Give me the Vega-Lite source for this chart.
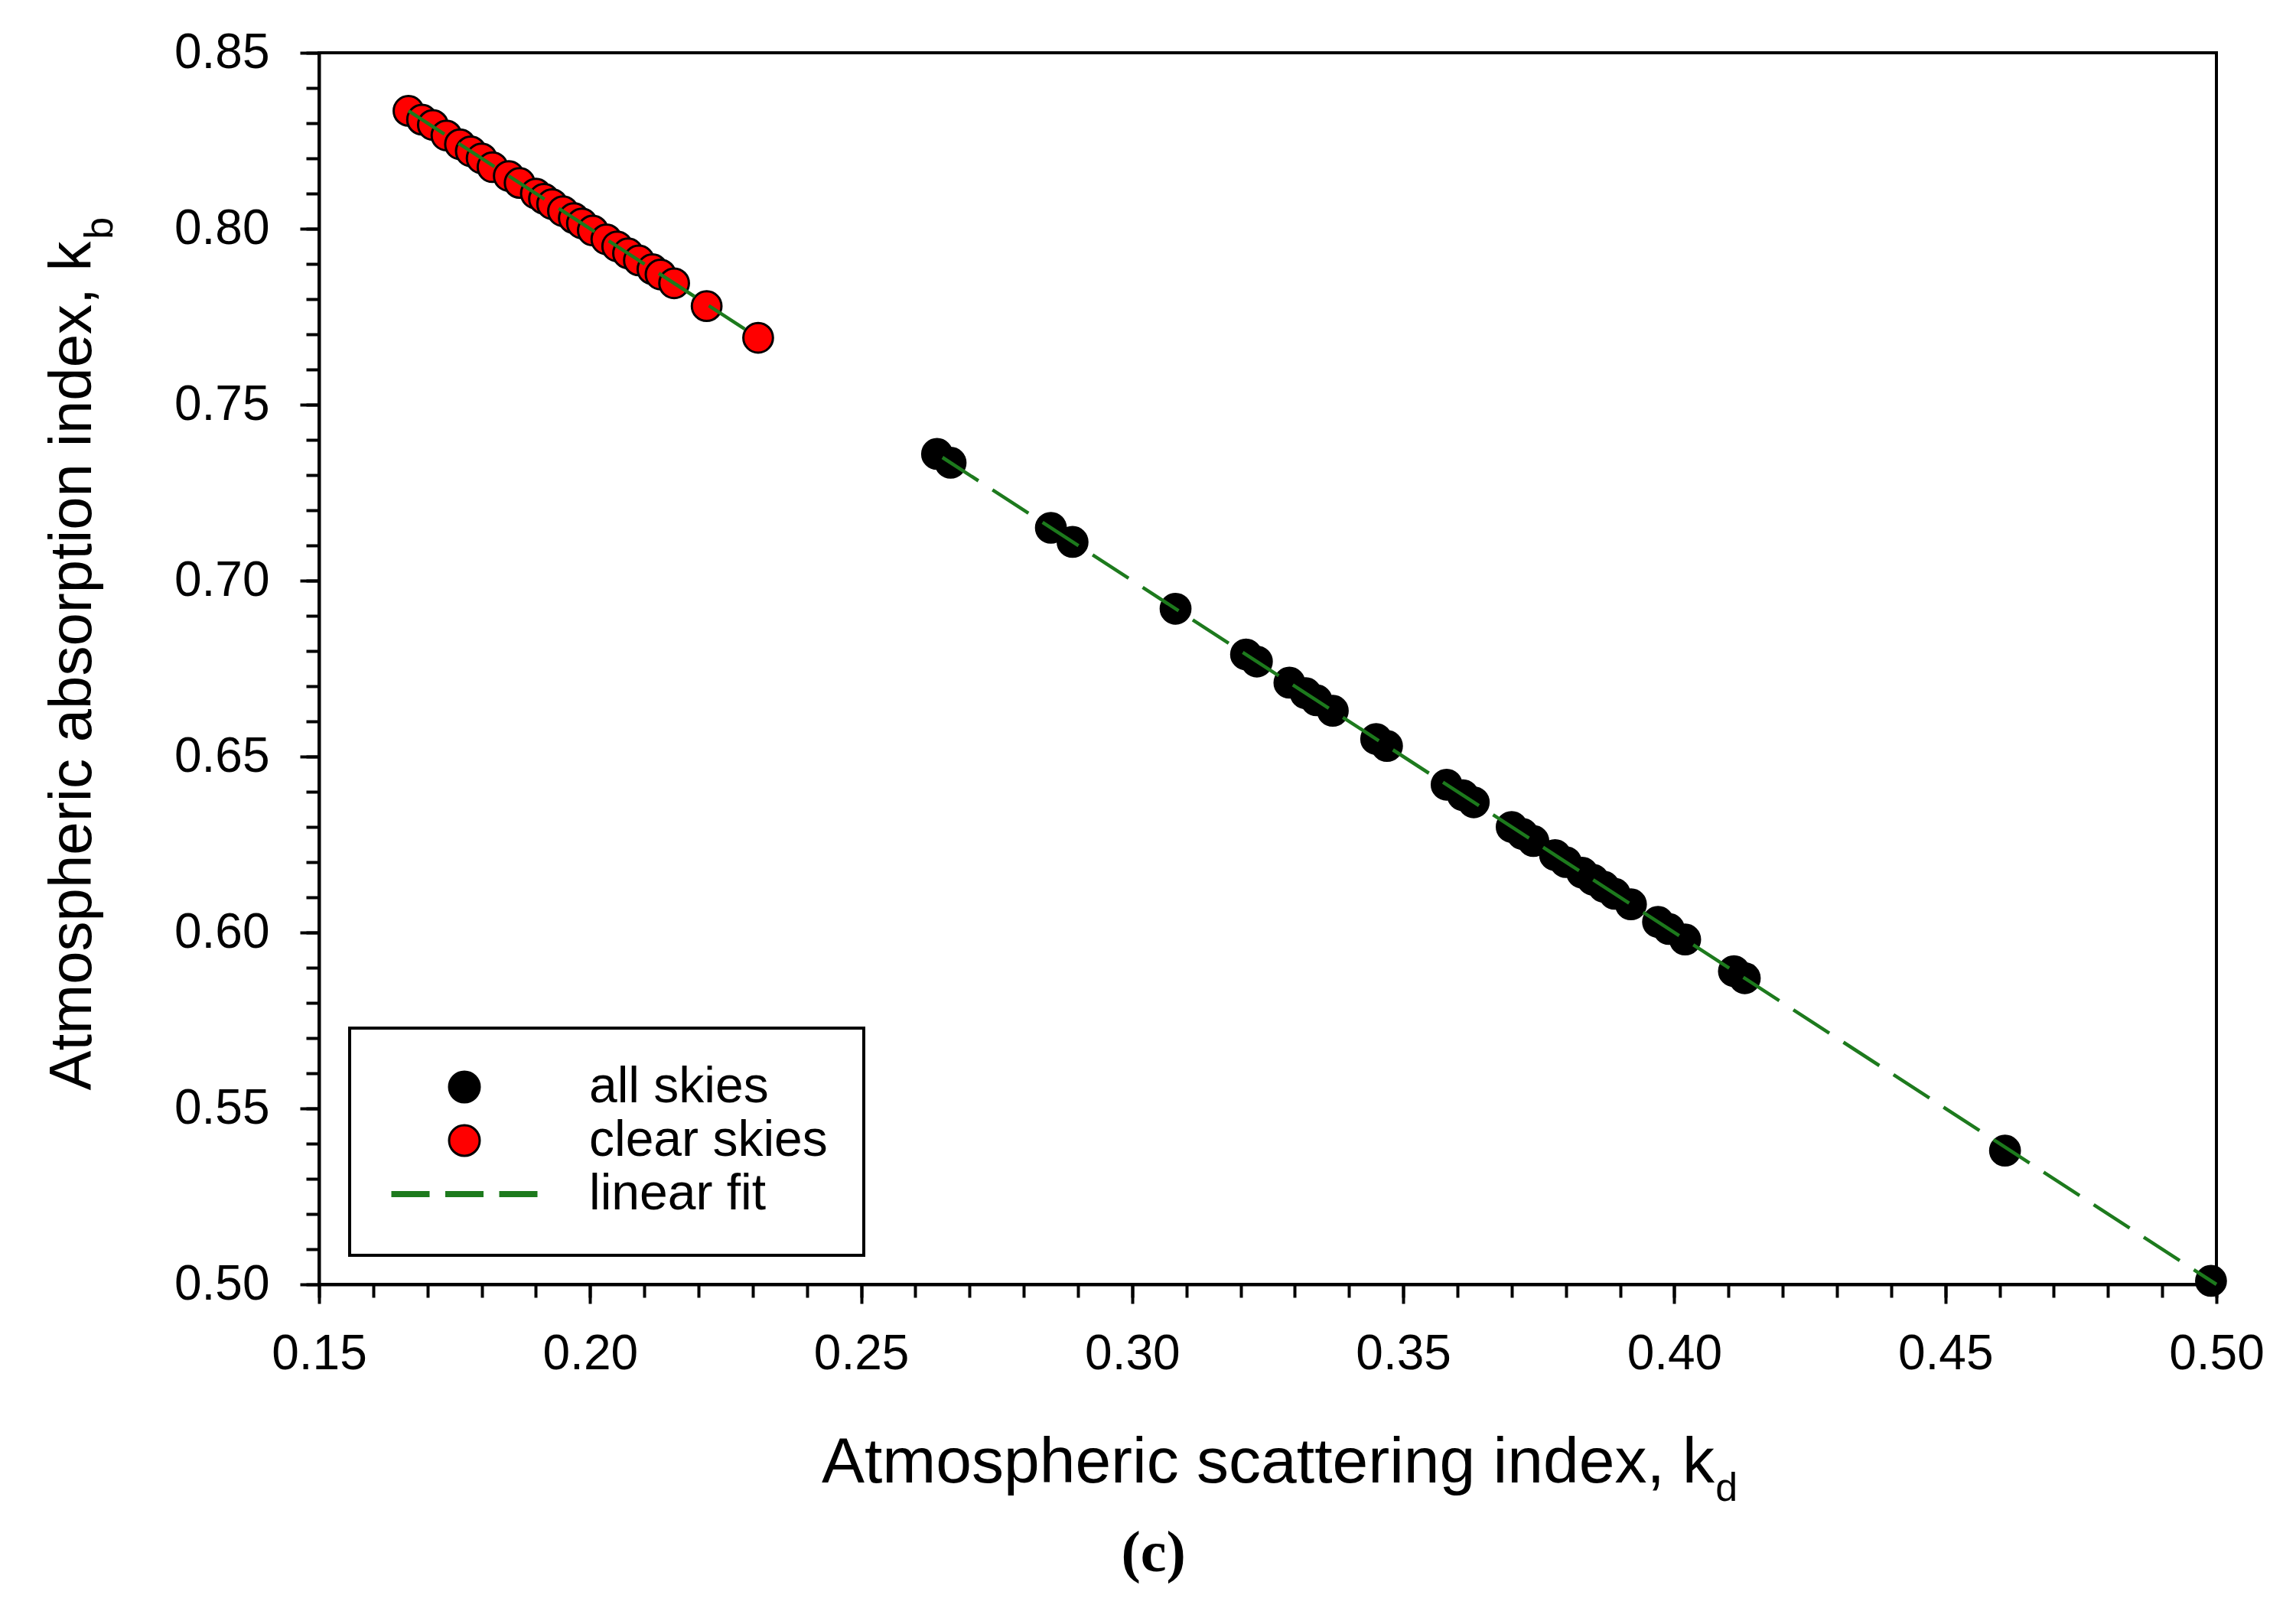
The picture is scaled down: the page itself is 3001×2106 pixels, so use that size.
{
  "$schema": "https://vega.github.io/schema/vega-lite/v6.json",
  "width": 2480,
  "height": 1610,
  "autosize": {"type": "none"},
  "padding": {"left": 417, "top": 69, "right": 104, "bottom": 427},
  "background": "white",
  "title": {
    "text": "(c)",
    "orient": "bottom",
    "anchor": "middle",
    "frame": "bounds",
    "font": "Liberation Serif",
    "fontWeight": "bold",
    "fontSize": 76,
    "color": "black",
    "offset": 22
  },
  "config": {
    "view": {"stroke": "black", "strokeWidth": 4},
    "font": "Liberation Sans",
    "legend": {"strokeWidth": 4},
    "axis": {
      "grid": false,
      "domainColor": "black",
      "domainWidth": 4,
      "tickColor": "black",
      "tickWidth": 4,
      "labelColor": "black",
      "titleColor": "black",
      "labelFont": "Liberation Sans",
      "titleFont": "Liberation Sans",
      "titleFontWeight": "normal",
      "labelFlush": false,
      "labelOverlap": false
    }
  },
  "datasets": {
    "skies": [
      {"sky": "all skies", "kd": 0.264, "kb": 0.736},
      {"sky": "all skies", "kd": 0.2665, "kb": 0.7335},
      {"sky": "all skies", "kd": 0.285, "kb": 0.715},
      {"sky": "all skies", "kd": 0.289, "kb": 0.711},
      {"sky": "all skies", "kd": 0.308, "kb": 0.692},
      {"sky": "all skies", "kd": 0.321, "kb": 0.679},
      {"sky": "all skies", "kd": 0.323, "kb": 0.677},
      {"sky": "all skies", "kd": 0.329, "kb": 0.671},
      {"sky": "all skies", "kd": 0.332, "kb": 0.668},
      {"sky": "all skies", "kd": 0.334, "kb": 0.666},
      {"sky": "all skies", "kd": 0.337, "kb": 0.663},
      {"sky": "all skies", "kd": 0.345, "kb": 0.655},
      {"sky": "all skies", "kd": 0.347, "kb": 0.653},
      {"sky": "all skies", "kd": 0.358, "kb": 0.642},
      {"sky": "all skies", "kd": 0.361, "kb": 0.639},
      {"sky": "all skies", "kd": 0.363, "kb": 0.637},
      {"sky": "all skies", "kd": 0.37, "kb": 0.63},
      {"sky": "all skies", "kd": 0.372, "kb": 0.628},
      {"sky": "all skies", "kd": 0.374, "kb": 0.626},
      {"sky": "all skies", "kd": 0.378, "kb": 0.622},
      {"sky": "all skies", "kd": 0.38, "kb": 0.62},
      {"sky": "all skies", "kd": 0.383, "kb": 0.617},
      {"sky": "all skies", "kd": 0.385, "kb": 0.615},
      {"sky": "all skies", "kd": 0.387, "kb": 0.613},
      {"sky": "all skies", "kd": 0.389, "kb": 0.611},
      {"sky": "all skies", "kd": 0.392, "kb": 0.608},
      {"sky": "all skies", "kd": 0.397, "kb": 0.603},
      {"sky": "all skies", "kd": 0.399, "kb": 0.601},
      {"sky": "all skies", "kd": 0.402, "kb": 0.598},
      {"sky": "all skies", "kd": 0.411, "kb": 0.589},
      {"sky": "all skies", "kd": 0.413, "kb": 0.587},
      {"sky": "all skies", "kd": 0.461, "kb": 0.538},
      {"sky": "all skies", "kd": 0.499, "kb": 0.501},
      {"sky": "clear skies", "kd": 0.1665, "kb": 0.8335},
      {"sky": "clear skies", "kd": 0.169, "kb": 0.831},
      {"sky": "clear skies", "kd": 0.171, "kb": 0.8295},
      {"sky": "clear skies", "kd": 0.1735, "kb": 0.8265},
      {"sky": "clear skies", "kd": 0.176, "kb": 0.824},
      {"sky": "clear skies", "kd": 0.178, "kb": 0.822},
      {"sky": "clear skies", "kd": 0.18, "kb": 0.82},
      {"sky": "clear skies", "kd": 0.182, "kb": 0.8175},
      {"sky": "clear skies", "kd": 0.185, "kb": 0.815},
      {"sky": "clear skies", "kd": 0.187, "kb": 0.813},
      {"sky": "clear skies", "kd": 0.19, "kb": 0.81},
      {"sky": "clear skies", "kd": 0.1915, "kb": 0.8085},
      {"sky": "clear skies", "kd": 0.193, "kb": 0.807},
      {"sky": "clear skies", "kd": 0.195, "kb": 0.805},
      {"sky": "clear skies", "kd": 0.197, "kb": 0.803},
      {"sky": "clear skies", "kd": 0.1985, "kb": 0.8015},
      {"sky": "clear skies", "kd": 0.2005, "kb": 0.7995},
      {"sky": "clear skies", "kd": 0.203, "kb": 0.797},
      {"sky": "clear skies", "kd": 0.205, "kb": 0.795},
      {"sky": "clear skies", "kd": 0.207, "kb": 0.793},
      {"sky": "clear skies", "kd": 0.209, "kb": 0.791},
      {"sky": "clear skies", "kd": 0.2115, "kb": 0.7885},
      {"sky": "clear skies", "kd": 0.213, "kb": 0.787},
      {"sky": "clear skies", "kd": 0.2155, "kb": 0.7845},
      {"sky": "clear skies", "kd": 0.2215, "kb": 0.778},
      {"sky": "clear skies", "kd": 0.231, "kb": 0.769}
    ],
    "fits": [
      {"fit": "all skies", "kd": 0.265, "kb": 0.735},
      {"fit": "all skies", "kd": 0.5, "kb": 0.5},
      {"fit": "clear skies", "kd": 0.1665, "kb": 0.8335},
      {"fit": "clear skies", "kd": 0.231, "kb": 0.769}
    ]
  },
  "layer": [
    {
      "data": {"name": "skies"},
      "mark": {"type": "point", "shape": "circle", "filled": true, "size": 1500, "opacity": 1},
      "encoding": {
        "x": {
          "field": "kd", "type": "quantitative",
          "scale": {"domain": [0.15, 0.5], "nice": false, "zero": false},
          "axis": {
            "orient": "bottom",
            "values": [0.15, 0.2, 0.25, 0.3, 0.35, 0.4, 0.45, 0.5],
            "format": ".2f",
            "tickSize": 25,
            "labelFontSize": 64,
            "labelPadding": 34,
            "title": "Atmospheric scattering index, k",
            "titleFontSize": 84,
            "titleBaseline": "alphabetic",
            "titleY": 258
          }
        },
        "y": {
          "field": "kb", "type": "quantitative",
          "scale": {"domain": [0.5, 0.85], "nice": false, "zero": false},
          "axis": {
            "orient": "left",
            "values": [0.5, 0.55, 0.6, 0.65, 0.7, 0.75, 0.8, 0.85],
            "format": ".2f",
            "tickSize": 25,
            "labelFontSize": 64,
            "labelPadding": 40,
            "title": "Atmospheric absorption index, k",
            "titleFontSize": 78,
            "titleAngle": -90,
            "titleAlign": "center",
            "titleBaseline": "alphabetic",
            "titleX": -299,
            "titleY": 801
          }
        },
        "color": {
          "field": "sky", "type": "nominal",
          "scale": {"domain": ["all skies", "clear skies", "linear fit"], "range": ["black", "#ff0000", "#1d7a1d"]},
          "legend": {
            "orient": "none",
            "legendX": 40,
            "legendY": 1275,
            "title": null,
            "padding": 47,
            "strokeColor": "black",
            "labelFont": "Liberation Sans",
            "labelFontSize": 66,
            "labelColor": "black",
            "labelLimit": 800,
            "symbolType": {"expr": "datum.value === 'linear fit' ? 'M-4.775,-0.2H-2.275V0.2H-4.775Z M-1.25,-0.2H1.25V0.2H-1.25Z M2.275,-0.2H4.775V0.2H2.275Z' : 'circle'"},
            "symbolStrokeColor": {"expr": "datum.value === 'linear fit' ? 'transparent' : 'black'"},
            "symbolSize": 1600,
            "symbolStrokeWidth": 3,
            "symbolOffset": 70,
            "labelOffset": 130,
            "rowPadding": 4,
            "clipHeight": 60
          }
        }
      }
    },
    {
      "data": {"name": "skies"},
      "mark": {"type": "point", "shape": "circle", "filled": true, "size": 1500, "stroke": "black", "strokeWidth": 3, "opacity": 1},
      "encoding": {
        "x": {"field": "kd", "type": "quantitative", "scale": {"domain": [0.15, 0.5], "nice": false, "zero": false}, "axis": null},
        "y": {"field": "kb", "type": "quantitative", "scale": {"domain": [0.5, 0.85], "nice": false, "zero": false}, "axis": null},
        "color": {"field": "sky", "type": "nominal", "legend": null}
      }
    },
    {
      "data": {"name": "fits"},
      "mark": {"type": "line", "color": "#1d7a1d", "strokeWidth": 4.5, "strokeDash": [56, 22]},
      "encoding": {
        "x": {
          "field": "kd", "type": "quantitative",
          "scale": {"domain": [0.15, 0.5], "nice": false, "zero": false},
          "axis": {
            "orient": "bottom",
            "values": [0.15, 0.16, 0.17, 0.18, 0.19, 0.2, 0.21, 0.22, 0.23, 0.24, 0.25, 0.26, 0.27, 0.28, 0.29, 0.3, 0.31, 0.32, 0.33, 0.34, 0.35, 0.36, 0.37, 0.38, 0.39, 0.4, 0.41, 0.42, 0.43, 0.44, 0.45, 0.46, 0.47, 0.48, 0.49, 0.5],
            "tickSize": 17,
            "labels": false,
            "domain": false,
            "title": null
          }
        },
        "y": {
          "field": "kb", "type": "quantitative",
          "scale": {"domain": [0.5, 0.85], "nice": false, "zero": false},
          "axis": {
            "orient": "left",
            "values": [0.5, 0.51, 0.52, 0.53, 0.54, 0.55, 0.56, 0.57, 0.58, 0.59, 0.6, 0.61, 0.62, 0.63, 0.64, 0.65, 0.66, 0.67, 0.68, 0.69, 0.7, 0.71, 0.72, 0.73, 0.74, 0.75, 0.76, 0.77, 0.78, 0.79, 0.8, 0.81, 0.82, 0.83, 0.84, 0.85],
            "tickSize": 17,
            "labels": false,
            "domain": false,
            "title": null
          }
        },
        "detail": {"field": "fit", "type": "nominal"}
      }
    },
    {
      "data": {"values": [{"sub": "d"}]},
      "mark": {"type": "text", "font": "Liberation Sans", "fontSize": 52, "align": "left", "baseline": "alphabetic", "color": "black"},
      "encoding": {
        "text": {"field": "sub"},
        "x": {"datum": 0.4076, "type": "quantitative", "scale": {"domain": [0.15, 0.5], "nice": false, "zero": false}, "axis": null},
        "y": {"datum": 0.4385, "type": "quantitative", "scale": {"domain": [0.5, 0.85], "nice": false, "zero": false}, "axis": null}
      }
    },
    {
      "data": {"values": [{"sub": "b"}]},
      "mark": {"type": "text", "font": "Liberation Sans", "fontSize": 52, "align": "left", "baseline": "alphabetic", "angle": 270, "color": "black"},
      "encoding": {
        "text": {"field": "sub"},
        "x": {"datum": 0.1119, "type": "quantitative", "scale": {"domain": [0.15, 0.5], "nice": false, "zero": false}, "axis": null},
        "y": {"datum": 0.797, "type": "quantitative", "scale": {"domain": [0.5, 0.85], "nice": false, "zero": false}, "axis": null}
      }
    }
  ],
  "resolve": {"axis": {"x": "independent", "y": "independent"}}
}
